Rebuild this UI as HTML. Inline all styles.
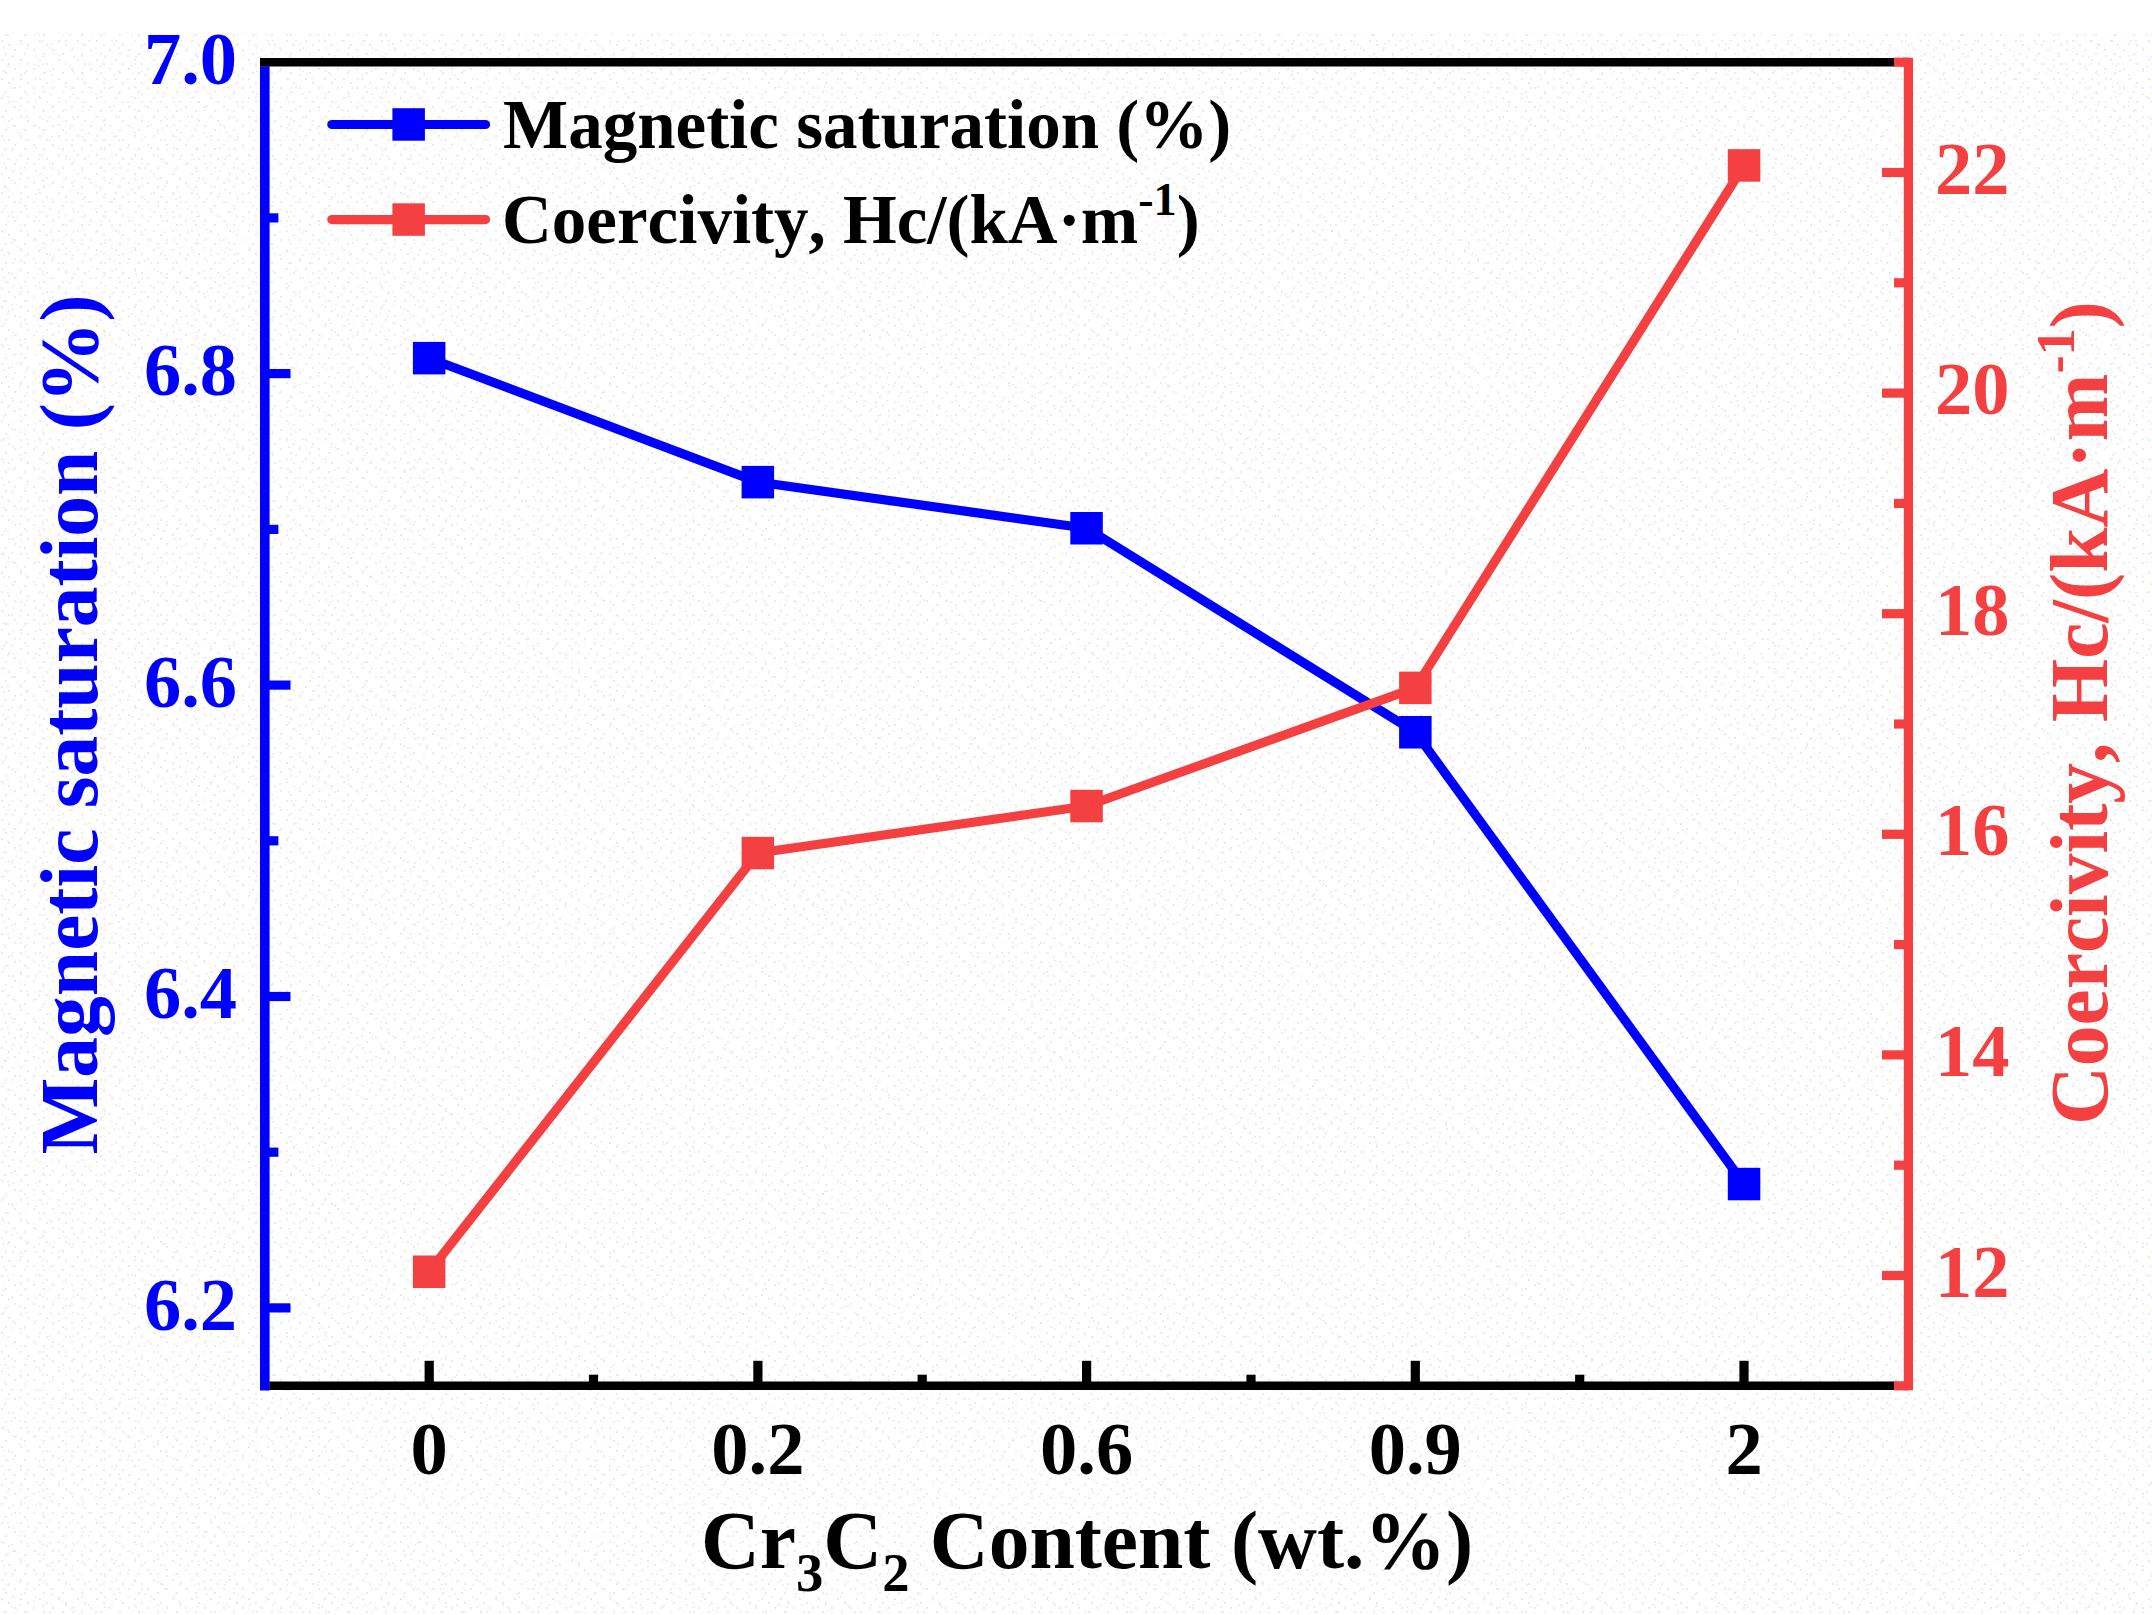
<!DOCTYPE html>
<html lang="en"><head><meta charset="utf-8"><title>Magnetic saturation and coercivity vs Cr3C2 content</title>
<style>
html,body{margin:0;padding:0;background:#fff;}
body{width:2152px;height:1615px;overflow:hidden;}
svg{display:block;}
text{font-family:"Liberation Serif","Times New Roman",serif;font-weight:bold;font-kerning:none;}
</style></head><body>
<svg width="2152" height="1615" viewBox="0 0 2152 1615">
<rect x="0" y="0" width="2152" height="1615" fill="#ffffff"/>
<defs><pattern id="dB" width="19" height="19" patternUnits="userSpaceOnUse"><rect x="1" y="2" width="2" height="2" fill="#e4edf6"/><rect x="8" y="6" width="2" height="2" fill="#e4edf6"/><rect x="14" y="11" width="2" height="2" fill="#e4edf6"/><rect x="5" y="15" width="2" height="2" fill="#e4edf6"/></pattern><pattern id="dP" width="23" height="23" patternUnits="userSpaceOnUse"><rect x="3" y="1" width="2" height="2" fill="#f8eee5"/><rect x="12" y="9" width="2" height="2" fill="#f8eee5"/><rect x="19" y="17" width="2" height="2" fill="#f8eee5"/></pattern><pattern id="dG" width="29" height="29" patternUnits="userSpaceOnUse"><rect x="4" y="5" width="2" height="2" fill="#f1ffe3"/><rect x="16" y="14" width="2" height="2" fill="#f1ffe3"/><rect x="24" y="23" width="2" height="2" fill="#f1ffe3"/></pattern><pattern id="dL" width="31" height="31" patternUnits="userSpaceOnUse"><rect x="7" y="3" width="2" height="2" fill="#f5ecf5"/><rect x="20" y="12" width="2" height="2" fill="#f5ecf5"/><rect x="11" y="25" width="2" height="2" fill="#f5ecf5"/></pattern></defs>
<rect x="0" y="33" width="2152" height="1582" fill="url(#dB)"/>
<rect x="0" y="33" width="2152" height="1582" fill="url(#dP)"/>
<rect x="0" y="33" width="2152" height="1582" fill="url(#dG)"/>
<rect x="0" y="33" width="2152" height="1582" fill="url(#dL)"/>
<g id="blue-series"><polyline points="429.2,358.2 757.9,482.1 1086.6,528.2 1415.3,732.2 1744.0,1184.0" fill="none" stroke="#0000ff" stroke-width="9.2" stroke-linejoin="round"/><rect x="412.9" y="341.9" width="32.5" height="32.5" fill="#0000ff"/><rect x="741.6" y="465.9" width="32.5" height="32.5" fill="#0000ff"/><rect x="1070.3" y="512.0" width="32.5" height="32.5" fill="#0000ff"/><rect x="1399.1" y="716.0" width="32.5" height="32.5" fill="#0000ff"/><rect x="1727.8" y="1167.8" width="32.5" height="32.5" fill="#0000ff"/></g>
<g id="red-series"><polyline points="429.2,1271.7 757.9,853.0 1086.6,806.0 1415.3,687.9 1744.0,165.5" fill="none" stroke="#f44040" stroke-width="9.2" stroke-linejoin="round"/><rect x="412.9" y="1255.5" width="32.5" height="32.5" fill="#f44040"/><rect x="741.6" y="836.8" width="32.5" height="32.5" fill="#f44040"/><rect x="1070.3" y="789.8" width="32.5" height="32.5" fill="#f44040"/><rect x="1399.1" y="671.6" width="32.5" height="32.5" fill="#f44040"/><rect x="1727.8" y="149.2" width="32.5" height="32.5" fill="#f44040"/></g>
<g id="axes"><line x1="264.8" y1="66.3" x2="264.8" y2="1390.3999999999999" stroke="#0000ff" stroke-width="9.6"/><line x1="264.8" y1="1307.9" x2="290.5" y2="1307.9" stroke="#0000ff" stroke-width="9.2"/><line x1="264.8" y1="1152.2" x2="278.4" y2="1152.2" stroke="#0000ff" stroke-width="9.2"/><line x1="264.8" y1="996.5" x2="290.5" y2="996.5" stroke="#0000ff" stroke-width="9.2"/><line x1="264.8" y1="840.8" x2="278.4" y2="840.8" stroke="#0000ff" stroke-width="9.2"/><line x1="264.8" y1="685.1" x2="290.5" y2="685.1" stroke="#0000ff" stroke-width="9.2"/><line x1="264.8" y1="529.4" x2="278.4" y2="529.4" stroke="#0000ff" stroke-width="9.2"/><line x1="264.8" y1="373.6" x2="290.5" y2="373.6" stroke="#0000ff" stroke-width="9.2"/><line x1="264.8" y1="217.9" x2="278.4" y2="217.9" stroke="#0000ff" stroke-width="9.2"/><line x1="269.40000000000003" y1="1385.8" x2="1895" y2="1385.8" stroke="#000" stroke-width="8.6"/><line x1="260.0" y1="62.2" x2="1895" y2="62.2" stroke="#000" stroke-width="8.6"/><line x1="429.2" y1="1360.8" x2="429.2" y2="1385.8" stroke="#000" stroke-width="9.2"/><line x1="593.5" y1="1374.7" x2="593.5" y2="1385.8" stroke="#000" stroke-width="9.2"/><line x1="757.9" y1="1360.8" x2="757.9" y2="1385.8" stroke="#000" stroke-width="9.2"/><line x1="922.2" y1="1374.7" x2="922.2" y2="1385.8" stroke="#000" stroke-width="9.2"/><line x1="1086.6" y1="1360.8" x2="1086.6" y2="1385.8" stroke="#000" stroke-width="9.2"/><line x1="1251.0" y1="1374.7" x2="1251.0" y2="1385.8" stroke="#000" stroke-width="9.2"/><line x1="1415.3" y1="1360.8" x2="1415.3" y2="1385.8" stroke="#000" stroke-width="9.2"/><line x1="1579.7" y1="1374.7" x2="1579.7" y2="1385.8" stroke="#000" stroke-width="9.2"/><line x1="1744.0" y1="1360.8" x2="1744.0" y2="1385.8" stroke="#000" stroke-width="9.2"/><line x1="1908.4" y1="57.800000000000004" x2="1908.4" y2="1390.1999999999998" stroke="#f44040" stroke-width="9.2"/><line x1="1894" y1="1385.8" x2="1908.4" y2="1385.8" stroke="#f44040" stroke-width="9.2"/><line x1="1882" y1="1275.5" x2="1908.4" y2="1275.5" stroke="#f44040" stroke-width="9.2"/><line x1="1894" y1="1165.2" x2="1908.4" y2="1165.2" stroke="#f44040" stroke-width="9.2"/><line x1="1882" y1="1054.9" x2="1908.4" y2="1054.9" stroke="#f44040" stroke-width="9.2"/><line x1="1894" y1="944.6" x2="1908.4" y2="944.6" stroke="#f44040" stroke-width="9.2"/><line x1="1882" y1="834.3" x2="1908.4" y2="834.3" stroke="#f44040" stroke-width="9.2"/><line x1="1894" y1="724.0" x2="1908.4" y2="724.0" stroke="#f44040" stroke-width="9.2"/><line x1="1882" y1="613.7" x2="1908.4" y2="613.7" stroke="#f44040" stroke-width="9.2"/><line x1="1894" y1="503.4" x2="1908.4" y2="503.4" stroke="#f44040" stroke-width="9.2"/><line x1="1882" y1="393.1" x2="1908.4" y2="393.1" stroke="#f44040" stroke-width="9.2"/><line x1="1894" y1="282.8" x2="1908.4" y2="282.8" stroke="#f44040" stroke-width="9.2"/><line x1="1882" y1="172.5" x2="1908.4" y2="172.5" stroke="#f44040" stroke-width="9.2"/><line x1="1894" y1="62.2" x2="1908.4" y2="62.2" stroke="#f44040" stroke-width="9.2"/></g>
<g id="tick-labels"><text x="237" y="1329.6" font-size="74.5" fill="#0000ff" text-anchor="end">6.2</text><text x="237" y="1018.2" font-size="74.5" fill="#0000ff" text-anchor="end">6.4</text><text x="237" y="706.8" font-size="74.5" fill="#0000ff" text-anchor="end">6.6</text><text x="237" y="395.3" font-size="74.5" fill="#0000ff" text-anchor="end">6.8</text><text x="237" y="83.9" font-size="74.5" fill="#0000ff" text-anchor="end">7.0</text><text x="1935" y="1296.5" font-size="74.5" fill="#f44040">12</text><text x="1935" y="1075.9" font-size="74.5" fill="#f44040">14</text><text x="1935" y="855.3" font-size="74.5" fill="#f44040">16</text><text x="1935" y="634.7" font-size="74.5" fill="#f44040">18</text><text x="1935" y="414.1" font-size="74.5" fill="#f44040">20</text><text x="1935" y="193.5" font-size="74.5" fill="#f44040">22</text><text x="429.2" y="1474" font-size="74.5" fill="#000" text-anchor="middle">0</text><text x="757.9" y="1474" font-size="74.5" fill="#000" text-anchor="middle">0.2</text><text x="1086.6" y="1474" font-size="74.5" fill="#000" text-anchor="middle">0.6</text><text x="1415.3" y="1474" font-size="74.5" fill="#000" text-anchor="middle">0.9</text><text x="1744.0" y="1474" font-size="74.5" fill="#000" text-anchor="middle">2</text></g>
<text id="xtitle" x="1087" y="1568" font-size="81.5" fill="#000" text-anchor="middle">Cr<tspan font-size="54.6" dy="22.6">3</tspan><tspan dy="-22.6">C</tspan><tspan font-size="54.6" dy="22.6">2</tspan><tspan dy="-22.6"> Content (wt.%)</tspan></text>
<text id="ltitle" transform="translate(97,724.5) rotate(-90)" font-size="81.5" fill="#0000ff" text-anchor="middle">Magnetic saturation (%)</text>
<text id="rtitle" transform="translate(2107,713) rotate(-90)" font-size="81.5" fill="#f44040" text-anchor="middle">Coercivity, Hc/(kA·m<tspan font-size="54.6" dy="-33">-1</tspan><tspan dy="33">)</tspan></text>
<g id="legend"><line x1="331.8" y1="124.5" x2="485.5" y2="124.5" stroke="#0000ff" stroke-width="9.2" stroke-linecap="round"/><rect x="392.4" y="108.2" width="32.5" height="32.5" fill="#0000ff"/><line x1="331.8" y1="219.6" x2="485.5" y2="219.6" stroke="#f44040" stroke-width="9.2" stroke-linecap="round"/><rect x="392.4" y="203.3" width="32.5" height="32.5" fill="#f44040"/><text id="leg1" x="503" y="147.8" font-size="69" fill="#000">Magnetic saturation (%)</text><text id="leg2" x="502" y="242.6" font-size="69" fill="#000">Coercivity, Hc/(kA·m<tspan font-size="46.2" dy="-28">-1</tspan><tspan dy="28">)</tspan></text></g>
</svg></body></html>
